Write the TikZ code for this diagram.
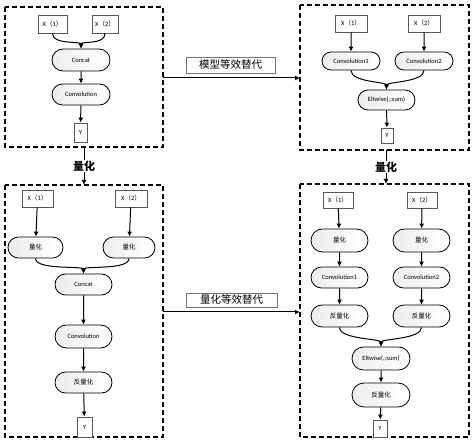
\documentclass[tikz,border=0pt]{standalone}
\usepackage{fontspec}
\setmainfont{Carlito}
\newfontfamily\cjk{Noto Sans CJK SC}
\usetikzlibrary{shapes.misc,arrows.meta}
\tikzset{
  arr/.style={-{Latex[length=5pt,width=5pt]}, line width=1pt},
  ln/.style={line width=1pt},
  frame/.style={dashed, dash pattern=on 5pt off 3pt, line width=1.1pt},
  inbox/.style={draw=black!65, line width=0.8pt, fill=white, inner sep=0pt, font=\fontsize{6.5}{7}\selectfont},
  op/.style={rounded rectangle, draw, line width=0.8pt, left color=black!7, middle color=white, right color=white, inner sep=0pt, font=\fontsize{6.5}{7}\selectfont},
  lab/.style={draw=black!55, line width=0.6pt, fill=white, inner sep=0pt, font=\cjk\fontsize{10.5}{11}\selectfont},
  qlab/.style={font=\cjk\bfseries\fontsize{11}{12}\selectfont, inner sep=1pt},
}
\newcommand{\xin}[1]{X{\cjk （}#1{\cjk ）}}
\begin{document}
\begin{tikzpicture}[x=1pt,y=-1pt]
\useasboundingbox (0,0) rectangle (474,443);
% ---------- top left ----------
\draw[frame] (5,7) rectangle (163,147);
\node[inbox, minimum width=29pt, minimum height=18pt] (tlx1) at (52.5,24) {\xin{1}};
\node[inbox, minimum width=26pt, minimum height=18pt] (tlx2) at (105,24) {\xin{2}};
\node[op, minimum width=58pt, minimum height=22pt] (tlcat) at (81,60) {Concat};
\node[op, minimum width=58pt, minimum height=21pt] (tlconv) at (81,94.5) {Convolution};
\node[inbox, minimum width=13pt, minimum height=19pt] (tly) at (80.5,132.5) {Y};
\draw[arr] (tlx1.south) .. controls +(0,12) and +(0,-8) .. (tlcat.north);
\draw[arr] (tlx2.south) .. controls +(0,12) and +(0,-8) .. (tlcat.north);
\draw[arr] (tlcat) -- (tlconv);
\draw[arr] (tlconv) -- (tly);
% ---------- top right ----------
\draw[frame] (300,5) rectangle (469,150);
\node[inbox, minimum width=32pt, minimum height=17pt] (trx1) at (351,23.5) {\xin{1}};
\node[inbox, minimum width=32pt, minimum height=17pt] (trx2) at (424,23.5) {\xin{2}};
\node[op, minimum width=58pt, minimum height=18pt] (trc1) at (351,61) {Convolution1};
\node[op, minimum width=58pt, minimum height=18pt] (trc2) at (424,61) {Convolution2};
\node[op, minimum width=57pt, minimum height=20pt] (trelt) at (386.5,100) {Eltwise(.;sum)};
\node[inbox, minimum width=12pt, minimum height=15pt] (try) at (387,135.5) {Y};
\draw[arr] (trx1) -- (trc1);
\draw[arr] (trx2) -- (trc2);
\draw[arr] (trc1.south) .. controls +(0,12) and +(0,-8) .. (trelt.north);
\draw[arr] (trc2.south) .. controls +(0,12) and +(0,-8) .. (trelt.north);
\draw[arr] (trelt) -- (try);
% ---------- middle links ----------
\coordinate (a1s) at (163,78);
\coordinate (a1e) at (300,78);
\draw[arr] (a1s) -- (a1e);
\node[lab, minimum width=89pt, minimum height=16pt] (l1) at (230.5,65) {模型等效替代};
\coordinate (a2s) at (163,312);
\coordinate (a2e) at (300,312);
\draw[arr] (a2s) -- (a2e);
\node[lab, minimum width=91pt, minimum height=14pt] (l2) at (231.5,300) {量化等效替代};
\coordinate (q1a) at (84,147);
\coordinate (q1b) at (84,185);
\node[qlab] (q1) at (84,166) {量化};
\draw[ln] (q1a) -- (q1.north);
\draw[arr] (q1.south) -- (q1b);
\coordinate (q2a) at (386,150);
\coordinate (q2b) at (386,184);
\node[qlab] (q2) at (386,167) {量化};
\draw[ln] (q2a) -- (q2.north);
\draw[arr] (q2.south) -- (q2b);
% ---------- bottom left ----------
\draw[frame] (5,185) rectangle (163,437);
\node[inbox, minimum width=31pt, minimum height=17pt] (blx1) at (37.5,198.5) {\xin{1}};
\node[inbox, minimum width=32pt, minimum height=17pt] (blx2) at (131,198.5) {\xin{2}};
\node[op, minimum width=55pt, minimum height=21pt, font=\cjk\fontsize{6.5}{7}\selectfont] (blq1) at (35.5,247.5) {量化};
\node[op, minimum width=52pt, minimum height=21pt, font=\cjk\fontsize{6.5}{7}\selectfont] (blq2) at (129,247.5) {量化};
\node[op, minimum width=57pt, minimum height=21pt] (blcat) at (83.5,284.5) {Concat};
\node[op, minimum width=57pt, minimum height=23pt] (blconv) at (83.5,336.5) {Convolution};
\node[op, minimum width=57pt, minimum height=21pt, font=\cjk\fontsize{6.5}{7}\selectfont] (bldq) at (83.5,382.5) {反量化};
\node[inbox, minimum width=15pt, minimum height=20pt] (bly) at (84.5,427) {Y};
\draw[arr] (blx1) -- (blq1);
\draw[arr] (blx2) -- (blq2);
\draw[arr] (blq1.south) .. controls +(0,12) and +(0,-8) .. (blcat.north);
\draw[arr] (blq2.south) .. controls +(0,12) and +(0,-8) .. (blcat.north);
\draw[arr] (blcat) -- (blconv);
\draw[arr] (blconv) -- (bldq);
\draw[arr] (bldq) -- (bly);
% ---------- bottom right ----------
\draw[frame] (300,184) rectangle (469,437);
\node[inbox, minimum width=30pt, minimum height=16pt] (brx1) at (338,200) {\xin{1}};
\node[inbox, minimum width=30pt, minimum height=16pt] (brx2) at (422,200) {\xin{2}};
\node[op, minimum width=57pt, minimum height=23pt, font=\cjk\fontsize{6.5}{7}\selectfont] (brq1) at (339.5,240.5) {量化};
\node[op, minimum width=57pt, minimum height=23pt, font=\cjk\fontsize{6.5}{7}\selectfont] (brq2) at (421.5,240.5) {量化};
\node[op, minimum width=57pt, minimum height=21pt] (brc1) at (339.5,277.5) {Convolution1};
\node[op, minimum width=57pt, minimum height=21pt] (brc2) at (421.5,277.5) {Convolution2};
\node[op, minimum width=57pt, minimum height=22pt, font=\cjk\fontsize{6.5}{7}\selectfont] (brdq1) at (339.5,316) {反量化};
\node[op, minimum width=57pt, minimum height=22pt, font=\cjk\fontsize{6.5}{7}\selectfont] (brdq2) at (421.5,316) {反量化};
\node[op, minimum width=58pt, minimum height=23pt] (brelt) at (381,358.5) {Eltwise(.;sum)};
\node[op, minimum width=58pt, minimum height=24pt, font=\cjk\fontsize{6.5}{7}\selectfont] (brdq) at (381,395) {反量化};
\node[inbox, minimum width=14pt, minimum height=17pt] (bry) at (380,428.5) {Y};
\draw[arr] (brx1) -- (brq1);
\draw[arr] (brx2) -- (brq2);
\draw[arr] (brq1) -- (brc1);
\draw[arr] (brq2) -- (brc2);
\draw[arr] (brc1) -- (brdq1);
\draw[arr] (brc2) -- (brdq2);
\draw[arr] (brdq1.south) .. controls +(0,12) and +(0,-8) .. (brelt.north);
\draw[arr] (brdq2.south) .. controls +(0,12) and +(0,-8) .. (brelt.north);
\draw[arr] (brelt) -- (brdq);
\draw[arr] (brdq) -- (bry);
\end{tikzpicture}
\end{document}
